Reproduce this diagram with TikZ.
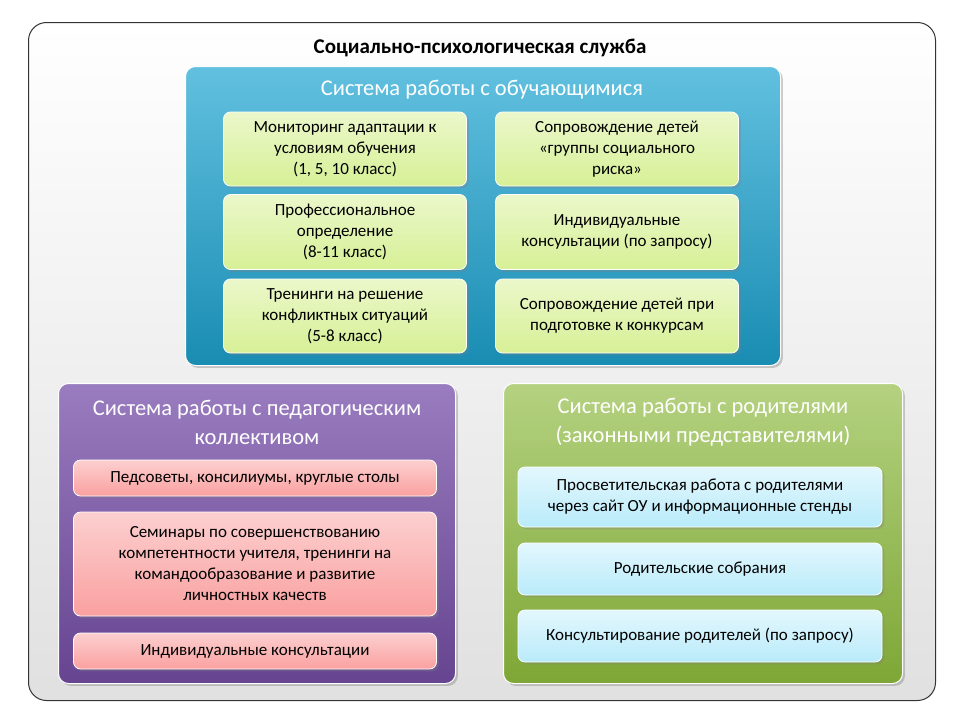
\documentclass[tikz,border=0pt]{standalone}
\usepackage{fontspec}
\setmainfont{Carlito}
\usetikzlibrary{shadows}
\definecolor{bluepanel}{RGB}{30,165,210}
\definecolor{purplepanel}{RGB}{120,80,170}
\definecolor{greenpanel}{RGB}{140,185,60}
\definecolor{pinkitem}{RGB}{250,160,160}
\definecolor{limeitem}{RGB}{215,240,150}
\definecolor{cyanitem}{RGB}{185,235,250}
\begin{document}
\begin{tikzpicture}
        [x=1pt,y=-1pt,
        panel/.style={draw=white,line width=1pt,rounded corners=10pt,drop shadow={opacity=0.4},anchor=north west,inner sep=0},
        item/.style={draw=white,line width=0.8pt,rounded corners=7pt,align=center,font=\fontsize{17}{21}\selectfont,text=black,drop shadow={opacity=0.3}},
        ptitle/.style={text=white,font=\fontsize{22.5}{29}\selectfont,align=center}]

        \useasboundingbox (0,0) rectangle (960,720);
        \node[draw=black!80,line width=1pt,rounded corners=18pt,top color=white,bottom color=black!12,minimum width=907pt,minimum height=678pt,anchor=north west,inner sep=0] (frame) at (28,22) {};
        \node[font=\bfseries\fontsize{21}{25}\selectfont] (title) at (480,48) {Социально-психологическая служба};

        % pupils
        \node[panel,top color=bluepanel!70,bottom color=bluepanel!85!black,minimum width=595pt,minimum height=299pt] (pupils) at (185,66) {};
        \node[ptitle] (pupilsT) at (482,90) {Система работы с обучающимися};
        \foreach \n/\x/\y/\h/\t in {
          a/345/149/74/{Мониторинг адаптации к\\условиям обучения\\(1, 5, 10 класс)},
          b/345/232/75/{Профессиональное\\определение\\(8-11 класс)},
          c/345/316/74/{Тренинги на решение\\конфликтных ситуаций\\(5-8 класс)},
          d/617/149/74/{Сопровождение детей\\«группы социального\\риска»},
          e/617/232/75/{Индивидуальные\\консультации (по запросу)},
          f/617/316/74/{Сопровождение детей при\\подготовке к конкурсам}}
          \node[item,top color=limeitem!50,bottom color=limeitem,minimum width=243pt,minimum height=\h pt] (\n) at (\x,\y) {\t};

        % teachers
        \node[panel,top color=purplepanel!75,bottom color=purplepanel!85!black,minimum width=397pt,minimum height=300pt] (teach) at (58,383) {};
        \node[ptitle] (teachT) at (257,422) {Система работы с педагогическим\\коллективом};
        \foreach \n/\y/\h/\t in {
          g/478/36/{Педсоветы, консилиумы, круглые столы},
          h/564/104/{Семинары по совершенствованию\\компетентности учителя, тренинги на\\командообразование и развитие\\личностных качеств},
          i/651/36/{Индивидуальные консультации}}
          \node[item,top color=pinkitem!50,bottom color=pinkitem,minimum width=363pt,minimum height=\h pt] (\n) at (255,\y) {\t};

        % parents
        \node[panel,top color=greenpanel!65,bottom color=greenpanel!90!black,minimum width=399pt,minimum height=300pt] (par) at (503,383) {};
        \node[ptitle] (parT) at (703,422) {Система работы с родителями\\(законными представителями)};
        \foreach \n/\y/\h/\t in {
          j/497/60/{Просветительская работа с родителями\\через сайт ОУ и информационные стенды},
          k/569/52/{Родительские собрания},
          l/636/52/{Консультирование родителей (по запросу)}}
          \node[item,top color=cyanitem!40,bottom color=cyanitem,minimum width=364pt,minimum height=\h pt] (\n) at (700,\y) {\t};
\end{tikzpicture}
\end{document}
